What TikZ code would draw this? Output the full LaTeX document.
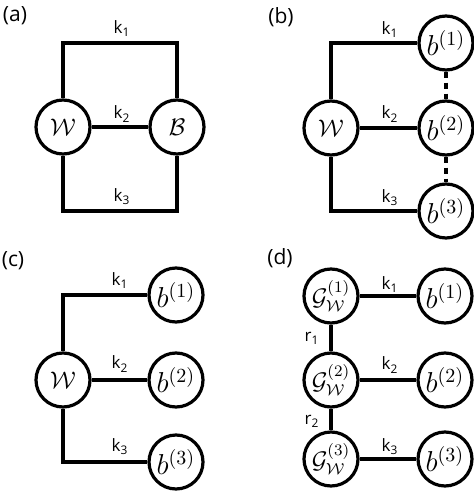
\documentclass[tikz,border=0pt]{standalone}
\usepackage{fontspec}
\setmainfont{Open Sans}
\tikzset{
  knot/.style = {circle, draw, line width=1.6pt, minimum size=27pt, inner sep=0, font=\large},
  bnode/.style = {knot, font=\Large},
  link/.style = {line width=1.6pt},
  weak/.style = {line width=1.6pt, dash pattern=on 3pt off 2.5pt},
  et/.style   = {font=\fontsize{8.5}{9}\selectfont, inner sep=0},
  tag/.style  = {font=\fontsize{10.5}{12}\selectfont, inner sep=0}
}
\begin{document}
\begin{tikzpicture}[x=0.5pt,y=-0.5pt]
  \useasboundingbox (0,0) rectangle (474,492);
  % (a)
  \node[tag] (ta) at (15,16) {(a)};
  \node[knot] (Wa) at (63,127) {$\mathcal{W}$};
  \node[knot] (Ba) at (177,127) {$\mathcal{B}$};
  \coordinate (ua) at (120,43); \coordinate (da) at (120,211);
  \draw[link] (Wa) |- (ua) -| (Ba);
  \draw[link] (Wa) -- (Ba);
  \draw[link] (Wa) |- (da) -| (Ba);
  \node[et] (k1a) at (122,29) {k\textsubscript{1}};
  \node[et] (k2a) at (122,114) {k\textsubscript{2}};
  \node[et] (k3a) at (122,197) {k\textsubscript{3}};
  % (b)
  \node[tag] (tb) at (281,17) {(b)};
  \node[knot] (Wb)  at (331,128) {$\mathcal{W}$};
  \node[bnode] (b1b) at (446,43)  {$b^{(1)}$};
  \node[bnode] (b2b) at (446,128) {$b^{(2)}$};
  \node[bnode] (b3b) at (446,211) {$b^{(3)}$};
  \draw[link] (Wb) |- (b1b); \draw[link] (Wb) -- (b2b); \draw[link] (Wb) |- (b3b);
  \draw[weak] (b1b) -- (b2b); \draw[weak] (b2b) -- (b3b);
  \node[et] (k1b) at (390,30)  {k\textsubscript{1}};
  \node[et] (k2b) at (390,114) {k\textsubscript{2}};
  \node[et] (k3b) at (390,198) {k\textsubscript{3}};
  % (c)
  \node[tag] (tc) at (13,261) {(c)};
  \node[knot] (Wc)  at (63,380)  {$\mathcal{W}$};
  \node[bnode] (b1c) at (176,295) {$b^{(1)}$};
  \node[bnode] (b2c) at (176,380) {$b^{(2)}$};
  \node[bnode] (b3c) at (176,462) {$b^{(3)}$};
  \draw[link] (Wc) |- (b1c); \draw[link] (Wc) -- (b2c); \draw[link] (Wc) |- (b3c);
  \node[et] (k1c) at (120,281) {k\textsubscript{1}};
  \node[et] (k2c) at (120,364) {k\textsubscript{2}};
  \node[et] (k3c) at (120,447) {k\textsubscript{3}};
  % (d)
  \node[tag] (td) at (280,258) {(d)};
  \node[knot] (G1) at (331,296) {$\mathcal{G}^{(1)}_{\mathcal{W}}$};
  \node[knot] (G2) at (331,380) {$\mathcal{G}^{(2)}_{\mathcal{W}}$};
  \node[knot] (G3) at (331,459) {$\mathcal{G}^{(3)}_{\mathcal{W}}$};
  \node[bnode] (b1d) at (445,296) {$b^{(1)}$};
  \node[bnode] (b2d) at (445,380) {$b^{(2)}$};
  \node[bnode] (b3d) at (445,459) {$b^{(3)}$};
  \draw[link] (G1) -- (b1d); \draw[link] (G2) -- (b2d); \draw[link] (G3) -- (b3d);
  \draw[link] (G1) -- (G2); \draw[link] (G2) -- (G3);
  \node[et] (k1d) at (390,285) {k\textsubscript{1}};
  \node[et] (k2d) at (390,365) {k\textsubscript{2}};
  \node[et] (k3d) at (390,447) {k\textsubscript{3}};
  \node[et] (r1d) at (312,338) {r\textsubscript{1}};
  \node[et] (r2d) at (312,421) {r\textsubscript{2}};
\end{tikzpicture}
\end{document}
